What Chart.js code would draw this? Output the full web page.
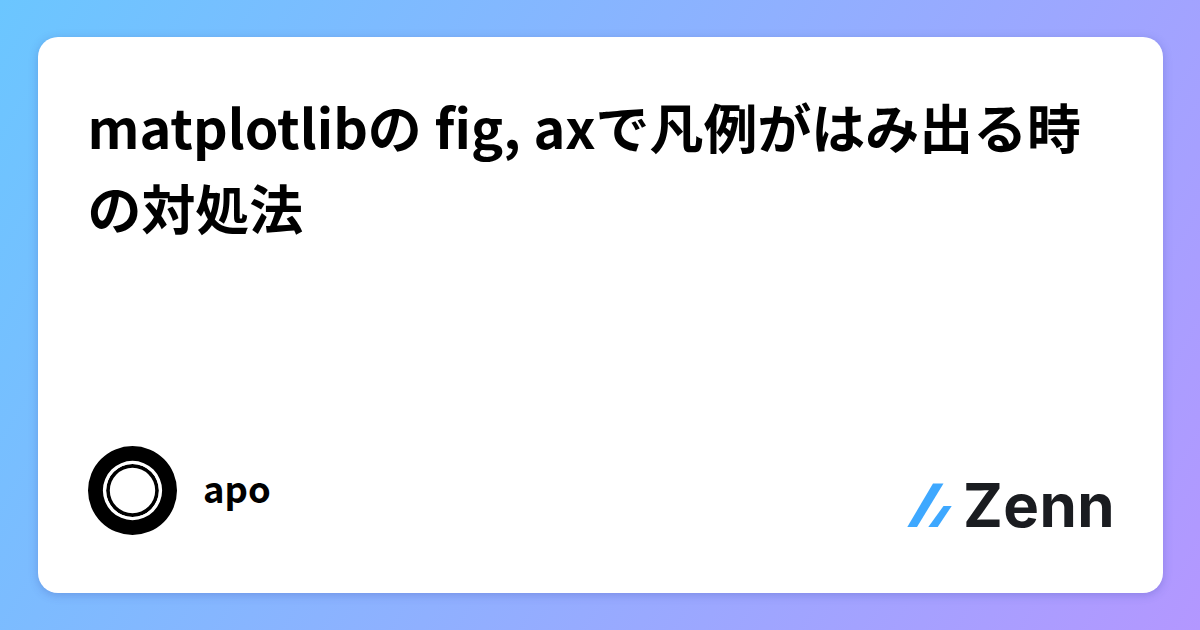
<!DOCTYPE html>
<html lang="ja">
<head>
<meta charset="utf-8">
<script src="https://cdn.jsdelivr.net/npm/chart.js@4"></script>
<style>
html,body{margin:0;padding:0;width:1200px;height:630px;overflow:hidden}
#bg{position:absolute;left:0;top:0;width:1200px;height:630px;background:linear-gradient(120deg,#6bc6ff 0%,#8fb0ff 50%,#b397ff 100%)}
#card{position:absolute;left:37.5px;top:37px;width:1125px;height:555.5px;background:#fff;border-radius:20px;box-shadow:0 2px 10px rgba(50,70,160,.28)}
#title{position:absolute;left:87.5px;top:84.5px;width:1024px;margin:0;font:700 53.95px/81px "Noto Sans CJK JP";word-spacing:.5px;color:#000}
#author{position:absolute;left:203px;top:461.5px;font:700 36.4px/50px "Noto Sans CJK JP";color:#000}
#avatar{position:absolute;left:87.5px;top:445.5px}
#logo{position:absolute;left:900px;top:470px}
</style>
</head>
<body>
<div id="bg"></div>
<div id="card"></div>
<h1 id="title">matplotlibの fig, axで凡例がはみ出る時の対処法</h1>
<div id="author">apo</div>
<div id="avatar"><canvas id="c" width="89" height="89"></canvas></div>
<svg id="logo" width="230" height="70" viewBox="0 0 230 70">
<polygon points="33,13.5 43.5,13.5 17,57 7.3,57" fill="#3ea8ff"/>
<polygon points="43.5,36 51.7,36 37.7,57 28.3,57" fill="#3ea8ff"/>
<text x="63" y="57" font-family="Inter" font-weight="700" font-size="60" letter-spacing="0.4" fill="#1a1c20">Zenn</text>
</svg>
<script>
const ringNames = ["outer", "gap", "inner"];
const ringValues = [[1], [1], [1]];
const ringColors = ["#000000", "#ffffff", "#000000"];
const ringWeights = [14.8, 3.2, 3.7];
new Chart(document.getElementById("c"), {
  type: "doughnut",
  data: {
    labels: ["avatar"],
    datasets: ringNames.map((n, i) => ({
      label: n, data: ringValues[i], backgroundColor: ringColors[i],
      weight: ringWeights[i], borderWidth: 0
    }))
  },
  options: {
    responsive: false, animation: false, cutout: "51%",
    layout: { padding: 0 },
    plugins: { legend: { display: false }, tooltip: { enabled: false } }
  }
});
</script>
</body>
</html>
